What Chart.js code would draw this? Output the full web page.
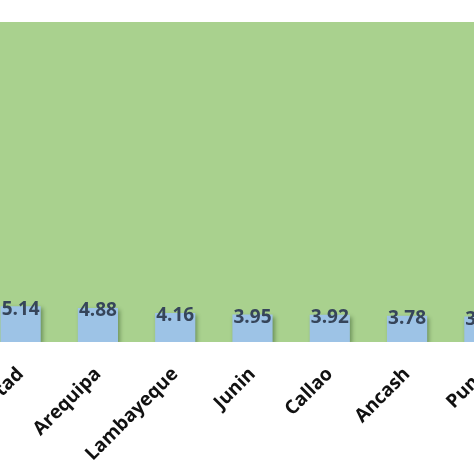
<!DOCTYPE html>
<html>
<head>
<meta charset="utf-8">
<script src="https://cdn.jsdelivr.net/npm/chart.js@4/dist/chart.umd.min.js"></script>
<style>
  html, body { margin: 0; padding: 0; background: #fff; overflow: hidden; }
  #wrap { position: absolute; left: -18px; top: 0; width: 541px; height: 474px; }
</style>
</head>
<body>
<div id="wrap"><canvas id="grafico"></canvas></div>
<script>
const regiones = ['La Libertad', 'Arequipa', 'Lambayeque', 'Junin', 'Callao', 'Ancash', 'Puno'];
const valores = [5.14, 4.88, 4.16, 3.95, 3.92, 3.78, 3.65];

const fondoVerde = {
    id: 'fondoVerde',
    beforeDraw(chart) {
        const {ctx, chartArea} = chart;
        ctx.save();
        ctx.fillStyle = '#a9d18e';
        ctx.fillRect(chartArea.left, chartArea.top, chartArea.right - chartArea.left, chartArea.bottom - chartArea.top);
        ctx.restore();
    }
};

const sombraBarras = {
    id: 'sombraBarras',
    beforeDatasetDraw(chart) {
        const ctx = chart.ctx;
        ctx.save();
        ctx.shadowColor = 'rgba(40, 70, 30, 0.45)';
        ctx.shadowBlur = 4;
        ctx.shadowOffsetX = 2;
        ctx.shadowOffsetY = 2;
    },
    afterDatasetDraw(chart) {
        chart.ctx.restore();
    }
};

const etiquetas = {
    id: 'etiquetas',
    afterDatasetsDraw(chart) {
        const {ctx} = chart;
        const meta = chart.getDatasetMeta(0);
        ctx.save();
        ctx.font = 'bold 19px "Open Sans"';
        ctx.fillStyle = '#36455a';
        ctx.textAlign = 'center';
        ctx.textBaseline = 'middle';
        meta.data.forEach((bar, i) => {
            ctx.fillText(valores[i].toFixed(2), bar.x, bar.y + 3);
        });
        ctx.restore();
    }
};

iniciarGrafico();

function iniciarGrafico() {
    const ctx = document.getElementById('grafico');
    new Chart(ctx, {
        type: 'bar',
        data: {
            labels: regiones,
            datasets: [{
                data: valores,
                backgroundColor: '#9dc3e6',
                borderWidth: 0,
                categoryPercentage: 1,
                barPercentage: 0.52
            }]
        },
        options: {
            responsive: true,
            maintainAspectRatio: false,
            animation: false,
            layout: { padding: { top: 22, left: 0, right: 0, bottom: 0 } },
            plugins: {
                legend: { display: false },
                tooltip: { enabled: false }
            },
            scales: {
                y: {
                    display: false,
                    min: 0,
                    max: 46
                },
                x: {
                    grid: { display: false },
                    border: { display: false },
                    ticks: {
                        minRotation: 45,
                        maxRotation: 45,
                        color: '#111',
                        padding: 13,
                        font: { family: 'Open Sans', size: 19, weight: 'bold' }
                    },
                    afterFit(scale) {
                        scale.height = 132;
                        scale.paddingLeft = 0;
                        scale.paddingRight = 0;
                    }
                }
            }
        },
        plugins: [fondoVerde, sombraBarras, etiquetas]
    });
}
</script>
</body>
</html>
